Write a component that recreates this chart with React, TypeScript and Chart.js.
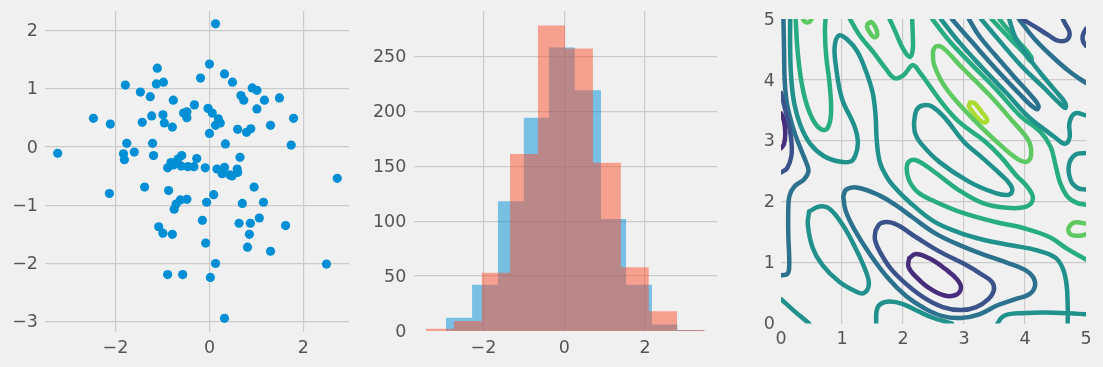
import React, { useEffect, useRef } from 'react';
import { Chart, registerables } from 'chart.js';

Chart.register(...registerables);

const BG = '#f0f0f0';
const GRID = '#cbcbcb';
const TICK_COLOR = '#555555';
const FONT = 'DejaVu Sans';
const FONT_SIZE = 17.5;

// ---------------- Scatter panel ----------------
const scatterX = [0.13, 0, -1.11, 0.32, -0.19, -1.13, -0.98, -1.79, 0.49, 0.91, 1.01, -1.47, -1.26, 0.67, 0.73, -0.77, 1.17, 1.49, -0.32, 1.01, -0.03, 0.06, -0.55, -0.48, -0.48, -0.99, -1.23, -2.47, 1.79, -2.11, -1.43, -0.96, -0.79, 0.19, 0.23, 0.13, 1.3, 0.6, 0.88, 0.79, 0.0, 0.34, 1.74, -1.76, -1.21, -3.23, -1.83, -1.81, -1.6, -1.19, -0.59, -0.67, -0.27, 0.65, -0.82, -0.89, -0.77, -0.6, -0.46, -0.33, -0.09, 0.16, 0.32, 0.27, 0.43, 0.48, 0.59, 0.6, 2.72, -1.38, -2.13, 0.95, -0.87, 0.09, -0.48, -0.62, -0.71, -0.75, -0.06, 0.7, 1.15, -0.15, 0.63, 0.87, 1.06, 1.62, -1.08, -0.99, -0.79, 0.85, -0.08, 0.81, 1.3, 0.13, 2.49, -0.89, -0.57, 0.02, 0.32];
const scatterY = [2.11, 1.42, 1.35, 1.25, 1.18, 1.08, 1.11, 1.06, 1.11, 1.01, 0.97, 0.94, 0.86, 0.88, 0.8, 0.8, 0.8, 0.84, 0.72, 0.65, 0.66, 0.58, 0.58, 0.6, 0.5, 0.55, 0.53, 0.49, 0.49, 0.39, 0.42, 0.41, 0.34, 0.48, 0.41, 0.37, 0.37, 0.3, 0.31, 0.25, 0.23, 0.05, 0.03, 0.06, 0.06, -0.11, -0.12, -0.22, -0.09, -0.15, -0.15, -0.21, -0.2, -0.18, -0.27, -0.36, -0.31, -0.33, -0.34, -0.34, -0.36, -0.38, -0.35, -0.46, -0.48, -0.5, -0.38, -0.44, -0.54, -0.69, -0.8, -0.69, -0.75, -0.82, -0.9, -0.91, -0.98, -1.07, -0.95, -0.97, -0.95, -1.26, -1.31, -1.31, -1.22, -1.35, -1.37, -1.48, -1.5, -1.5, -1.65, -1.72, -1.79, -2.0, -2.01, -2.19, -2.19, -2.24, -2.94];
const scatterXTicks = [-2, 0, 2];
const scatterYTicks = [-3, -2, -1, 0, 1, 2];

// ---------------- Histogram panel ----------------
const histBlueEdges = [-2.93, -2.28, -1.64, -1.0, -0.38, 0.26, 0.91, 1.53, 2.17, 2.8, 3.44];
const histBlueCounts = [12, 42, 118, 194, 258, 219, 102, 42, 6, 1];
const histRedEdges = [-3.42, -2.73, -2.04, -1.34, -0.65, 0.02, 0.71, 1.4, 2.09, 2.79, 3.48];
const histRedCounts = [2, 9, 53, 161, 278, 257, 153, 58, 18, 1];
const histXTicks = [-2, 0, 2];
const histYTicks = [0, 50, 100, 150, 200, 250];

// ---------------- Contour panel ----------------
const contourLevels = [-0.75, -0.5, -0.25, 0, 0.25, 0.5, 0.75];
const contourColors = ['#472d7b', '#3b528b', '#2c728e', '#21918c', '#27ad81', '#5ec962', '#aadc32'];
const contourTicks = [0, 1, 2, 3, 4, 5];

type P = [number, number];
const lvlM075Loop: P[] = [[2.1, 1.07], [2.21, 1.14], [2.43, 1.07], [2.7, 0.89], [2.89, 0.72], [2.95, 0.58], [2.87, 0.47], [2.68, 0.46], [2.43, 0.58], [2.21, 0.77], [2.09, 0.93], [2.1, 1.07]];
const lvlM075Edge: P[] = [[0, 3.45], [0.05, 3.32], [0.07, 3.12], [0.05, 2.95], [0, 2.88]];
const lvlM050Loop: P[] = [[1.55, 1.53], [1.64, 1.65], [1.86, 1.64], [2.21, 1.42], [2.6, 1.18], [3.0, 0.98], [3.3, 0.8], [3.46, 0.68], [3.49, 0.55], [3.4, 0.4], [3.2, 0.27], [2.95, 0.22], [2.65, 0.27], [2.35, 0.42], [2.05, 0.65], [1.8, 0.9], [1.62, 1.18], [1.54, 1.38], [1.55, 1.53]];
const lvlM050Left: P[] = [[0, 3.79], [0.06, 3.55], [0.12, 3.3], [0.17, 3.0], [0.17, 2.75], [0.1, 2.55], [0, 2.48]];
const lvlM050TopU: P[] = [[3.95, 5], [4.17, 4.87], [4.39, 4.73], [4.55, 4.64], [4.69, 4.66], [4.73, 4.78], [4.66, 4.92], [4.62, 5]];
const lvlM050Edge: P[] = [[5, 4.84], [4.95, 4.74], [4.95, 4.64], [5, 4.56]];
const lvlM025Left: P[] = [[0.04, 5], [0.05, 4.5], [0.06, 4.0], [0.1, 3.6], [0.2, 3.2], [0.31, 2.9], [0.41, 2.65], [0.45, 2.5], [0.38, 2.37], [0.22, 2.25], [0.14, 2.1], [0.12, 1.9], [0.12, 1.45], [0.135, 1.0], [0.11, 0.82], [0, 0.79]];
const lvlM025Loop: P[] = [[1.02, 2.08], [1.07, 2.2], [1.26, 2.23], [1.62, 2.1], [1.9, 1.93], [2.16, 1.74], [2.53, 1.48], [2.9, 1.3], [3.3, 1.14], [3.7, 1.0], [4.0, 0.88], [4.14, 0.75], [4.16, 0.6], [4.07, 0.48], [3.84, 0.4], [3.55, 0.3], [3.25, 0.15], [2.95, 0.09], [2.65, 0.12], [2.35, 0.25], [2.05, 0.45], [1.75, 0.75], [1.45, 1.15], [1.2, 1.55], [1.06, 1.85], [1.02, 2.08]];
const lvlM025Hair: P[] = [[2.8, 5], [3.15, 4.6], [3.55, 4.15], [3.9, 3.78], [4.1, 3.58], [4.2, 3.52], [4.22, 3.58], [4.12, 3.72], [3.85, 4.02], [3.5, 4.42], [3.25, 4.72], [3.08, 5]];
const lvlM025Band: P[] = [[3.9, 5], [4.15, 4.68], [4.45, 4.38], [4.75, 4.12], [5, 3.95]];
const lvl0Corner: P[] = [[0, 0.4], [0.2, 0.22], [0.46, 0]];
const lvl0LeftLoop: P[] = [[0.46, 1.84], [0.63, 1.92], [0.79, 1.89], [1.01, 1.62], [1.22, 1.24], [1.39, 0.86], [1.44, 0.64], [1.36, 0.5], [1.22, 0.53], [0.95, 0.69], [0.68, 0.96], [0.52, 1.24], [0.44, 1.62], [0.46, 1.84]];
const lvl0Long: P[] = [[0.15, 5], [0.15, 4.5], [0.17, 4.0], [0.22, 3.6], [0.32, 3.25], [0.48, 2.95], [0.7, 2.75], [0.95, 2.66], [1.14, 2.66], [1.22, 2.76], [1.26, 2.98], [1.2, 3.25], [1.0, 3.69], [0.9, 4.23], [0.88, 4.55], [0.95, 4.73], [1.09, 4.66], [1.25, 4.47], [1.39, 4.15], [1.5, 3.8], [1.55, 3.42], [1.57, 3.0], [1.62, 2.65], [1.72, 2.43], [1.85, 2.25], [2.1, 2.0], [2.5, 1.68], [2.9, 1.5], [3.3, 1.38], [3.8, 1.28], [4.2, 1.2], [4.5, 1.08], [4.62, 0.9], [4.68, 0.65], [4.7, 0.3], [4.7, 0]];
const lvl0Bottom: P[] = [[1.56, 0], [1.57, 0.22], [1.63, 0.32], [1.78, 0.36], [2.0, 0.32], [2.25, 0.2], [2.5, 0.09], [2.7, 0.03], [2.8, 0]];
const lvl0BottomRight: P[] = [[3.55, 0], [3.62, 0.1], [3.72, 0.15], [3.95, 0.17], [4.3, 0.18], [4.7, 0.17], [5, 0.15]];
const lvl0Loop: P[] = [[2.18, 3.3], [2.22, 3.5], [2.32, 3.58], [2.48, 3.56], [2.7, 3.36], [3.0, 2.98], [3.3, 2.72], [3.6, 2.45], [3.76, 2.28], [3.79, 2.17], [3.72, 2.11], [3.52, 2.14], [3.08, 2.33], [2.6, 2.65], [2.3, 2.95], [2.2, 3.12], [2.18, 3.3]];
const lvl0Band: P[] = [[2.62, 5], [2.92, 4.62], [3.3, 4.2], [3.7, 3.78], [4.05, 3.4], [4.3, 3.2], [4.5, 3.05], [4.65, 2.95], [4.73, 3.05], [4.73, 3.3], [4.82, 3.45], [5, 3.42]];
const lvl0Hair: P[] = [[3.28, 5], [3.6, 4.62], [3.95, 4.22], [4.3, 3.88], [4.55, 3.63], [4.66, 3.54], [4.66, 3.62], [4.5, 3.82], [4.28, 4.08], [4.05, 4.38], [3.85, 4.68], [3.74, 5]];
const lvl0EdgeC: P[] = [[5, 2.8], [4.82, 2.77], [4.72, 2.6], [4.75, 2.35], [4.87, 2.22], [5, 2.2]];
const lvl025LeftU: P[] = [[0.24, 5], [0.27, 4.5], [0.33, 4.0], [0.42, 3.6], [0.55, 3.3], [0.68, 3.18], [0.77, 3.22], [0.82, 3.45], [0.8, 3.9], [0.74, 4.4], [0.72, 4.8], [0.73, 5]];
const lvl025Main: P[] = [[1.13, 5], [1.29, 4.73], [1.51, 4.46], [1.72, 4.18], [1.86, 4.03], [2.0, 4.07], [2.16, 4.24], [2.27, 4.13], [2.43, 3.91], [2.65, 3.61], [2.92, 3.31], [3.33, 3.0], [3.6, 2.74], [3.85, 2.44], [4.05, 2.23], [4.13, 2.05], [4.02, 1.92], [3.7, 1.9], [3.3, 1.98], [2.9, 2.2], [2.5, 2.5], [2.22, 2.68], [2.1, 2.66], [2.06, 2.55], [2.1, 2.35], [2.25, 2.15], [2.53, 2.0], [2.97, 1.82], [3.5, 1.67], [4.0, 1.56], [4.4, 1.42], [4.7, 1.22], [5, 1.05]];
const lvl025TopU: P[] = [[1.78, 5], [1.88, 4.78], [1.97, 4.57], [2.06, 4.42], [2.12, 4.38], [2.16, 4.5], [2.16, 4.75], [2.15, 5]];
const lvl025Band: P[] = [[2.48, 5], [2.75, 4.65], [3.1, 4.28], [3.55, 3.82], [3.93, 3.4], [4.25, 3.15], [4.42, 2.9], [4.5, 2.6], [4.58, 2.3], [4.7, 2.08], [4.85, 1.98], [5, 1.95]];
const lvl025Hair: P[] = [[3.45, 5], [3.75, 4.68], [4.0, 4.42], [4.1, 4.3], [4.1, 4.38], [3.9, 4.62], [3.7, 4.85], [3.58, 5]];
const lvl050Loop: P[] = [[2.49, 4.47], [2.54, 4.55], [2.65, 4.53], [2.97, 4.2], [3.41, 3.76], [3.79, 3.33], [4.06, 3.0], [4.1, 2.78], [4.04, 2.66], [3.88, 2.7], [3.52, 3.0], [3.08, 3.43], [2.7, 3.87], [2.51, 4.25], [2.49, 4.47]];
const lvl050Blob: P[] = [[1.42, 4.92], [1.48, 4.95], [1.55, 4.86], [1.58, 4.74], [1.53, 4.7], [1.46, 4.77], [1.41, 4.87], [1.42, 4.92]];
const lvl050Arc: P[] = [[0.36, 5], [0.4, 4.95], [0.46, 4.95], [0.5, 5]];
const lvl050EdgeU: P[] = [[5, 1.64], [4.82, 1.66], [4.72, 1.58], [4.74, 1.47], [4.86, 1.44], [5, 1.46]];
const lvl075Blob: P[] = [[3.1, 3.63], [3.17, 3.62], [3.3, 3.46], [3.38, 3.35], [3.35, 3.3], [3.27, 3.33], [3.13, 3.49], [3.08, 3.57], [3.1, 3.63]];

const contourLines: { level: number; pts: P[] }[] = [
  { level: -0.75, pts: lvlM075Loop },
  { level: -0.75, pts: lvlM075Edge },
  { level: -0.5, pts: lvlM050Loop },
  { level: -0.5, pts: lvlM050Left },
  { level: -0.5, pts: lvlM050TopU },
  { level: -0.5, pts: lvlM050Edge },
  { level: -0.25, pts: lvlM025Left },
  { level: -0.25, pts: lvlM025Loop },
  { level: -0.25, pts: lvlM025Hair },
  { level: -0.25, pts: lvlM025Band },
  { level: 0, pts: lvl0Corner },
  { level: 0, pts: lvl0LeftLoop },
  { level: 0, pts: lvl0Long },
  { level: 0, pts: lvl0Bottom },
  { level: 0, pts: lvl0BottomRight },
  { level: 0, pts: lvl0Loop },
  { level: 0, pts: lvl0Band },
  { level: 0, pts: lvl0Hair },
  { level: 0, pts: lvl0EdgeC },
  { level: 0.25, pts: lvl025LeftU },
  { level: 0.25, pts: lvl025Main },
  { level: 0.25, pts: lvl025TopU },
  { level: 0.25, pts: lvl025Band },
  { level: 0.25, pts: lvl025Hair },
  { level: 0.5, pts: lvl050Loop },
  { level: 0.5, pts: lvl050Blob },
  { level: 0.5, pts: lvl050Arc },
  { level: 0.5, pts: lvl050EdgeU },
  { level: 0.75, pts: lvl075Blob },
];

// ---------------- helpers ----------------
const fmt = (v: number) => (v < 0 ? '\u2212' + Math.abs(v) : String(v));

function axis(opts: {
  min: number; max: number; ticks: number[]; isX: boolean; size: number; pad: number; hideEdges?: boolean;
}) {
  const { min, max, ticks, isX, size, pad, hideEdges } = opts;
  return {
    type: 'linear',
    min,
    max,
    afterBuildTicks: (s: any) => {
      s.ticks = ticks.map((v) => ({ value: v }));
    },
    afterFit: (s: any) => {
      if (isX) s.height = size;
      else s.width = size;
      s.paddingTop = 0;
      s.paddingBottom = 0;
      s.paddingLeft = 0;
      s.paddingRight = 0;
    },
    grid: {
      drawTicks: false,
      lineWidth: 1.2,
      color: (ctx: any) => {
        const v = ctx.tick ? ctx.tick.value : null;
        if (hideEdges && (v === min || v === max)) return 'rgba(0,0,0,0)';
        return GRID;
      },
    },
    border: { display: false },
    ticks: {
      autoSkip: false,
      maxRotation: 0,
      minRotation: 0,
      padding: pad,
      labelOffset: isX ? 0 : 1.1,
      color: TICK_COLOR,
      font: { family: FONT, size: FONT_SIZE },
      callback: (v: any) => fmt(Number(v)),
    },
  };
}

function useChart(ref: React.RefObject<HTMLCanvasElement>, build: () => any) {
  useEffect(() => {
    if (!ref.current) return;
    const chart = new Chart(ref.current, build());
    return () => chart.destroy();
  }, []);
}

const baseOptions = (pad: { top: number; right: number }, scales: any) => ({
  animation: false,
  responsive: false,
  devicePixelRatio: 1,
  layout: { padding: { top: pad.top, right: pad.right, left: 0, bottom: 0 } },
  plugins: { legend: { display: false }, tooltip: { enabled: false } },
  events: [],
  scales,
});

function Panel(props: { left: number; width: number; build: () => any }) {
  const ref = useRef<HTMLCanvasElement>(null);
  useChart(ref, props.build);
  return (
    <div style={{ position: 'absolute', left: props.left, top: 0, width: props.width, height: 367 }}>
      <canvas ref={ref} width={props.width} height={367} style={{ width: props.width, height: 367, display: 'block' }} />
    </div>
  );
}

const buildScatter = () => ({
  type: 'scatter',
  data: {
    datasets: [
      {
        data: scatterX.map((x, i) => ({ x, y: scatterY[i] })),
        backgroundColor: '#008fd5',
        borderWidth: 0,
        pointRadius: 4.6,
      },
    ],
  },
  options: baseOptions({ top: 11, right: 14 }, {
    x: axis({ min: -3.5, max: 2.97, ticks: scatterXTicks, isX: true, size: 35.3, pad: 6.5 }),
    y: axis({ min: -3.17, max: 2.33, ticks: scatterYTicks, isX: false, size: 45, pad: 7 }),
  }),
});

const stepPoints = (edges: number[], counts: number[]) => {
  const pts = counts.map((c, i) => ({ x: edges[i], y: c }));
  pts.push({ x: edges[edges.length - 1], y: counts[counts.length - 1] });
  return pts;
};

const buildHist = () => ({
  type: 'scatter',
  data: {
    datasets: [
      {
        data: stepPoints(histBlueEdges, histBlueCounts),
        showLine: true,
        stepped: true,
        fill: 'origin',
        backgroundColor: 'rgba(0,143,213,0.5)',
        borderColor: 'rgba(0,0,0,0)',
        borderWidth: 0,
        pointRadius: 0,
        order: 1,
      },
      {
        data: stepPoints(histRedEdges, histRedCounts),
        showLine: true,
        stepped: true,
        fill: 'origin',
        backgroundColor: 'rgba(252,79,48,0.5)',
        borderColor: 'rgba(0,0,0,0)',
        borderWidth: 0,
        pointRadius: 0,
        order: 0,
      },
    ],
  },
  options: baseOptions({ top: 11, right: 14 }, {
    x: axis({ min: -3.71, max: 3.78, ticks: histXTicks, isX: true, size: 36, pad: 7 }),
    y: axis({ min: 0, max: 291.2, ticks: histYTicks, isX: false, size: 44.3, pad: 8, hideEdges: true }),
  }),
});

const buildContour = () => ({
  type: 'scatter',
  data: {
    datasets: contourLines.map((ln) => ({
      data: ln.pts.map(([x, y]) => ({ x, y })),
      showLine: true,
      borderColor: contourColors[contourLevels.indexOf(ln.level)],
      borderWidth: 4.5,
      pointRadius: 0,
      tension: 0.4,
      fill: false,
      borderCapStyle: 'round',
      borderJoinStyle: 'round',
    })),
  },
  options: baseOptions({ top: 19, right: 14 }, {
    x: axis({ min: 0, max: 5, ticks: contourTicks, isX: true, size: 43.5, pad: 5.5, hideEdges: true }),
    y: axis({ min: 0, max: 5, ticks: contourTicks, isX: false, size: 41, pad: 6, hideEdges: true }),
  }),
});

export default function App() {
  useEffect(() => {
    document.body.style.margin = '0';
    document.body.style.background = BG;
  }, []);
  return (
    <div style={{ position: 'absolute', left: 0, top: 0, width: 1103, height: 367, background: BG, overflow: 'hidden' }}>
      <Panel left={0} width={363} build={buildScatter} />
      <Panel left={370} width={361} build={buildHist} />
      <Panel left={740} width={360} build={buildContour} />
    </div>
  );
}
